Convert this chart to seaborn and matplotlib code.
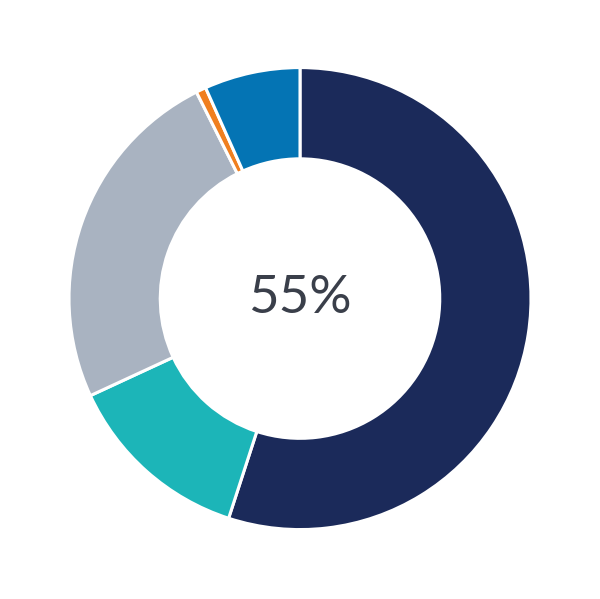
import matplotlib
matplotlib.use("Agg")
import matplotlib.pyplot as plt
import seaborn as sns

# segment shares, clockwise from 12 o'clock
labels = ["Navy", "Teal", "Gray", "Orange", "Blue"]
shares = [55.0, 13.1, 24.5, 0.7, 6.7]
colors = ["#1b2a5a", "#1cb5b8", "#a9b3c1", "#f07f1f", "#0474b4"]
center_label = "55%"

sns.set_theme(style="white")
plt.rcParams["font.family"] = ["Lato", "DejaVu Sans"]

fig = plt.figure(figsize=(6, 5.99), dpi=100)
ax = fig.add_axes([0, 0, 1, 1])

ax.pie(shares, colors=sns.color_palette(colors), startangle=90, counterclock=False,
       radius=1.0, wedgeprops=dict(width=0.395, edgecolor="white", linewidth=2.2))

ax.text(0, 0.0, center_label, ha="center", va="center", fontsize=38, color="#3a3f4a")

half = 300 / 231
ax.set_xlim(-half, half)
ax.set_ylim(-half * 599 / 600 - 0.004, half * 599 / 600 - 0.004)
ax.set_aspect("equal")
ax.axis("off")

fig.savefig("out.png", dpi=100, facecolor="white")
